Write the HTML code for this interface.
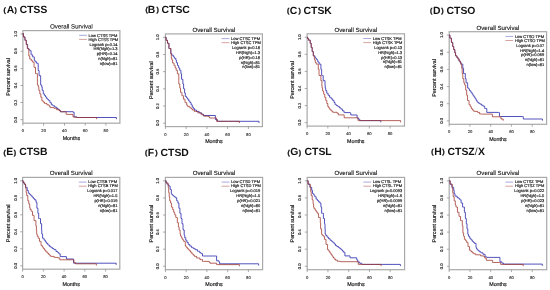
<!DOCTYPE html><html><head><meta charset="utf-8"><title>Overall Survival</title><style>html,body{margin:0;padding:0;background:#fff;width:550px;height:290px;overflow:hidden}#w{position:absolute;left:0;top:0;width:1100px;height:580px;transform:scale(0.5);transform-origin:0 0;will-change:transform}svg{display:block;}text{font-family:"Liberation Sans",sans-serif;font-kerning:none;text-rendering:geometricPrecision}</style></head><body><div id="w">
<svg width="1100" height="580" viewBox="0 0 550 290">
<defs><filter id="lb" filterUnits="userSpaceOnUse" x="0" y="0" width="550" height="290"><feGaussianBlur stdDeviation="0.4"/></filter></defs>
<rect width="550" height="290" fill="#fff"/>
<g><text x="3.45" y="12.3" font-size="7" font-weight="bold" fill="#111" stroke="#111" stroke-width="0.3">(</text><text x="10.5" y="13.15" font-size="10.4" font-weight="bold" text-anchor="middle" fill="#111">A</text><text x="15.7" y="12.3" font-size="7" font-weight="bold" text-anchor="middle" fill="#111" stroke="#111" stroke-width="0.3">)</text><text x="19.57" y="13.15" font-size="10.4" font-weight="bold" fill="#111">CTSS</text><text x="71.4" y="28.5" font-size="6.1" text-anchor="middle" fill="#111" stroke="#111" stroke-width="0.12">Overall Survival</text><rect x="22.9" y="30.6" width="97" height="92.6" fill="none" stroke="#a9a9a9" stroke-width="1.2"/><path d="M20.5 119.77H22.9M20.5 102.62H22.9M20.5 85.47H22.9M20.5 68.33H22.9M20.5 51.18H22.9M20.5 34.03H22.9M22.9 123.2V125.6M43.65 123.2V125.6M64.4 123.2V125.6M85.15 123.2V125.6M105.9 123.2V125.6" stroke="#8a8a8a" stroke-width="0.7" fill="none"/><text transform="translate(16.8 119.77) rotate(-90)" font-size="4.15" text-anchor="middle" fill="#333" stroke="#333" stroke-width="0.14">0.0</text><text transform="translate(16.8 102.62) rotate(-90)" font-size="4.15" text-anchor="middle" fill="#333" stroke="#333" stroke-width="0.14">0.2</text><text transform="translate(16.8 85.47) rotate(-90)" font-size="4.15" text-anchor="middle" fill="#333" stroke="#333" stroke-width="0.14">0.4</text><text transform="translate(16.8 68.33) rotate(-90)" font-size="4.15" text-anchor="middle" fill="#333" stroke="#333" stroke-width="0.14">0.6</text><text transform="translate(16.8 51.18) rotate(-90)" font-size="4.15" text-anchor="middle" fill="#333" stroke="#333" stroke-width="0.14">0.8</text><text transform="translate(16.8 34.03) rotate(-90)" font-size="4.15" text-anchor="middle" fill="#333" stroke="#333" stroke-width="0.14">1.0</text><text x="22.9" y="132.1" font-size="4.15" text-anchor="middle" fill="#333" stroke="#333" stroke-width="0.14">0</text><text x="43.65" y="132.1" font-size="4.15" text-anchor="middle" fill="#333" stroke="#333" stroke-width="0.14">20</text><text x="64.4" y="132.1" font-size="4.15" text-anchor="middle" fill="#333" stroke="#333" stroke-width="0.14">40</text><text x="85.15" y="132.1" font-size="4.15" text-anchor="middle" fill="#333" stroke="#333" stroke-width="0.14">60</text><text x="105.9" y="132.1" font-size="4.15" text-anchor="middle" fill="#333" stroke="#333" stroke-width="0.14">80</text><text transform="translate(10 76.9) rotate(-90)" font-size="5.3" text-anchor="middle" fill="#111" stroke="#111" stroke-width="0.16">Percent survival</text><text x="71.4" y="139.6" font-size="5.3" text-anchor="middle" fill="#111" stroke="#111" stroke-width="0.16">Months</text><path d="M79.1 35.3H86.9" stroke="#3e3eb6" stroke-width="0.9" opacity="0.5"/><path d="M79.1 39.4H86.9" stroke="#a0342a" stroke-width="0.9" opacity="0.5"/><text x="88.6" y="36.5" font-size="4" fill="#111" stroke="#222" stroke-width="0.16">Low CTSS TPM</text><text x="88.6" y="40.5" font-size="4" fill="#111" stroke="#222" stroke-width="0.16">High CTSS TPM</text><text x="117.5" y="45.55" font-size="4" text-anchor="end" fill="#111" stroke="#222" stroke-width="0.16">Logrank p=0.14</text><text x="117.5" y="50.45" font-size="4" text-anchor="end" fill="#111" stroke="#222" stroke-width="0.16">HR(high)=1.3</text><text x="117.5" y="55.35" font-size="4" text-anchor="end" fill="#111" stroke="#222" stroke-width="0.16">p(HR)=0.14</text><text x="117.5" y="60.25" font-size="4" text-anchor="end" fill="#111" stroke="#222" stroke-width="0.16">n(high)=81</text><text x="117.5" y="65.15" font-size="4" text-anchor="end" fill="#111" stroke="#222" stroke-width="0.16">n(low)=81</text></g>
<g><text x="145.45" y="11.95" font-size="7" font-weight="bold" fill="#111" stroke="#111" stroke-width="0.3">(</text><text x="151.5" y="12.8" font-size="10.4" font-weight="bold" text-anchor="middle" fill="#111">B</text><text x="157.7" y="11.95" font-size="7" font-weight="bold" text-anchor="middle" fill="#111" stroke="#111" stroke-width="0.3">)</text><text x="161.57" y="12.8" font-size="10.4" font-weight="bold" fill="#111">CTSC</text><text x="213.9" y="31.8" font-size="6.1" text-anchor="middle" fill="#111" stroke="#111" stroke-width="0.12">Overall Survival</text><rect x="165.4" y="33.9" width="97" height="92.7" fill="none" stroke="#a9a9a9" stroke-width="1.2"/><path d="M163 123.17H165.4M163 106H165.4M163 88.83H165.4M163 71.67H165.4M163 54.5H165.4M163 37.33H165.4M165.4 126.6V129M186.15 126.6V129M206.9 126.6V129M227.65 126.6V129M248.4 126.6V129" stroke="#8a8a8a" stroke-width="0.7" fill="none"/><text transform="translate(159.3 123.17) rotate(-90)" font-size="4.15" text-anchor="middle" fill="#333" stroke="#333" stroke-width="0.14">0.0</text><text transform="translate(159.3 106) rotate(-90)" font-size="4.15" text-anchor="middle" fill="#333" stroke="#333" stroke-width="0.14">0.2</text><text transform="translate(159.3 88.83) rotate(-90)" font-size="4.15" text-anchor="middle" fill="#333" stroke="#333" stroke-width="0.14">0.4</text><text transform="translate(159.3 71.67) rotate(-90)" font-size="4.15" text-anchor="middle" fill="#333" stroke="#333" stroke-width="0.14">0.6</text><text transform="translate(159.3 54.5) rotate(-90)" font-size="4.15" text-anchor="middle" fill="#333" stroke="#333" stroke-width="0.14">0.8</text><text transform="translate(159.3 37.33) rotate(-90)" font-size="4.15" text-anchor="middle" fill="#333" stroke="#333" stroke-width="0.14">1.0</text><text x="165.4" y="135.5" font-size="4.15" text-anchor="middle" fill="#333" stroke="#333" stroke-width="0.14">0</text><text x="186.15" y="135.5" font-size="4.15" text-anchor="middle" fill="#333" stroke="#333" stroke-width="0.14">20</text><text x="206.9" y="135.5" font-size="4.15" text-anchor="middle" fill="#333" stroke="#333" stroke-width="0.14">40</text><text x="227.65" y="135.5" font-size="4.15" text-anchor="middle" fill="#333" stroke="#333" stroke-width="0.14">60</text><text x="248.4" y="135.5" font-size="4.15" text-anchor="middle" fill="#333" stroke="#333" stroke-width="0.14">80</text><text transform="translate(152.5 80.25) rotate(-90)" font-size="5.3" text-anchor="middle" fill="#111" stroke="#111" stroke-width="0.16">Percent survival</text><text x="213.9" y="143" font-size="5.3" text-anchor="middle" fill="#111" stroke="#111" stroke-width="0.16">Months</text><path d="M221.6 38.6H229.4" stroke="#3e3eb6" stroke-width="0.9" opacity="0.5"/><path d="M221.6 42.7H229.4" stroke="#a0342a" stroke-width="0.9" opacity="0.5"/><text x="231.1" y="39.8" font-size="4" fill="#111" stroke="#222" stroke-width="0.16">Low CTSC TPM</text><text x="231.1" y="43.8" font-size="4" fill="#111" stroke="#222" stroke-width="0.16">High CTSC TPM</text><text x="260" y="48.85" font-size="4" text-anchor="end" fill="#111" stroke="#222" stroke-width="0.16">Logrank p=0.18</text><text x="260" y="53.75" font-size="4" text-anchor="end" fill="#111" stroke="#222" stroke-width="0.16">HR(high)=1.3</text><text x="260" y="58.65" font-size="4" text-anchor="end" fill="#111" stroke="#222" stroke-width="0.16">p(HR)=0.18</text><text x="260" y="63.55" font-size="4" text-anchor="end" fill="#111" stroke="#222" stroke-width="0.16">n(high)=81</text><text x="260" y="68.45" font-size="4" text-anchor="end" fill="#111" stroke="#222" stroke-width="0.16">n(low)=81</text></g>
<g><text x="287.1" y="12.85" font-size="7" font-weight="bold" fill="#111" stroke="#111" stroke-width="0.3">(</text><text x="293.5" y="13.7" font-size="10.4" font-weight="bold" text-anchor="middle" fill="#111">C</text><text x="299.7" y="12.85" font-size="7" font-weight="bold" text-anchor="middle" fill="#111" stroke="#111" stroke-width="0.3">)</text><text x="303.57" y="13.7" font-size="10.4" font-weight="bold" fill="#111">CTSK</text><text x="355.8" y="31.7" font-size="6.1" text-anchor="middle" fill="#111" stroke="#111" stroke-width="0.12">Overall Survival</text><rect x="307.1" y="33.8" width="97.4" height="92.3" fill="none" stroke="#a9a9a9" stroke-width="1.2"/><path d="M304.7 122.67H307.1M304.7 105.58H307.1M304.7 88.49H307.1M304.7 71.41H307.1M304.7 54.32H307.1M304.7 37.23H307.1M307.1 126.1V128.5M327.85 126.1V128.5M348.6 126.1V128.5M369.35 126.1V128.5M390.1 126.1V128.5" stroke="#8a8a8a" stroke-width="0.7" fill="none"/><text transform="translate(301 122.67) rotate(-90)" font-size="4.15" text-anchor="middle" fill="#333" stroke="#333" stroke-width="0.14">0.0</text><text transform="translate(301 105.58) rotate(-90)" font-size="4.15" text-anchor="middle" fill="#333" stroke="#333" stroke-width="0.14">0.2</text><text transform="translate(301 88.49) rotate(-90)" font-size="4.15" text-anchor="middle" fill="#333" stroke="#333" stroke-width="0.14">0.4</text><text transform="translate(301 71.41) rotate(-90)" font-size="4.15" text-anchor="middle" fill="#333" stroke="#333" stroke-width="0.14">0.6</text><text transform="translate(301 54.32) rotate(-90)" font-size="4.15" text-anchor="middle" fill="#333" stroke="#333" stroke-width="0.14">0.8</text><text transform="translate(301 37.23) rotate(-90)" font-size="4.15" text-anchor="middle" fill="#333" stroke="#333" stroke-width="0.14">1.0</text><text x="307.1" y="135" font-size="4.15" text-anchor="middle" fill="#333" stroke="#333" stroke-width="0.14">0</text><text x="327.85" y="135" font-size="4.15" text-anchor="middle" fill="#333" stroke="#333" stroke-width="0.14">20</text><text x="348.6" y="135" font-size="4.15" text-anchor="middle" fill="#333" stroke="#333" stroke-width="0.14">40</text><text x="369.35" y="135" font-size="4.15" text-anchor="middle" fill="#333" stroke="#333" stroke-width="0.14">60</text><text x="390.1" y="135" font-size="4.15" text-anchor="middle" fill="#333" stroke="#333" stroke-width="0.14">80</text><text transform="translate(294.2 79.95) rotate(-90)" font-size="5.3" text-anchor="middle" fill="#111" stroke="#111" stroke-width="0.16">Percent survival</text><text x="355.8" y="142.5" font-size="5.3" text-anchor="middle" fill="#111" stroke="#111" stroke-width="0.16">Months</text><path d="M363.3 38.5H371.1" stroke="#3e3eb6" stroke-width="0.9" opacity="0.5"/><path d="M363.3 42.6H371.1" stroke="#a0342a" stroke-width="0.9" opacity="0.5"/><text x="372.8" y="39.7" font-size="4" fill="#111" stroke="#222" stroke-width="0.16">Low CTSK TPM</text><text x="372.8" y="43.7" font-size="4" fill="#111" stroke="#222" stroke-width="0.16">High CTSK TPM</text><text x="402.1" y="48.75" font-size="4" text-anchor="end" fill="#111" stroke="#222" stroke-width="0.16">Logrank p=0.13</text><text x="402.1" y="53.65" font-size="4" text-anchor="end" fill="#111" stroke="#222" stroke-width="0.16">HR(high)=1.3</text><text x="402.1" y="58.55" font-size="4" text-anchor="end" fill="#111" stroke="#222" stroke-width="0.16">p(HR)=0.13</text><text x="402.1" y="63.45" font-size="4" text-anchor="end" fill="#111" stroke="#222" stroke-width="0.16">n(high)=81</text><text x="402.1" y="68.35" font-size="4" text-anchor="end" fill="#111" stroke="#222" stroke-width="0.16">n(low)=81</text></g>
<g><text x="430.05" y="12.95" font-size="7" font-weight="bold" fill="#111" stroke="#111" stroke-width="0.3">(</text><text x="436.7" y="13.8" font-size="10.4" font-weight="bold" text-anchor="middle" fill="#111">D</text><text x="442.3" y="12.95" font-size="7" font-weight="bold" text-anchor="middle" fill="#111" stroke="#111" stroke-width="0.3">)</text><text x="446.57" y="13.8" font-size="10.4" font-weight="bold" fill="#111">CTSO</text><text x="497.9" y="29.6" font-size="6.1" text-anchor="middle" fill="#111" stroke="#111" stroke-width="0.12">Overall Survival</text><rect x="449.2" y="31.7" width="97.4" height="92.6" fill="none" stroke="#a9a9a9" stroke-width="1.2"/><path d="M446.8 120.87H449.2M446.8 103.72H449.2M446.8 86.57H449.2M446.8 69.43H449.2M446.8 52.28H449.2M446.8 35.13H449.2M449.2 124.3V126.7M469.95 124.3V126.7M490.7 124.3V126.7M511.45 124.3V126.7M532.2 124.3V126.7" stroke="#8a8a8a" stroke-width="0.7" fill="none"/><text transform="translate(443.1 120.87) rotate(-90)" font-size="4.15" text-anchor="middle" fill="#333" stroke="#333" stroke-width="0.14">0.0</text><text transform="translate(443.1 103.72) rotate(-90)" font-size="4.15" text-anchor="middle" fill="#333" stroke="#333" stroke-width="0.14">0.2</text><text transform="translate(443.1 86.57) rotate(-90)" font-size="4.15" text-anchor="middle" fill="#333" stroke="#333" stroke-width="0.14">0.4</text><text transform="translate(443.1 69.43) rotate(-90)" font-size="4.15" text-anchor="middle" fill="#333" stroke="#333" stroke-width="0.14">0.6</text><text transform="translate(443.1 52.28) rotate(-90)" font-size="4.15" text-anchor="middle" fill="#333" stroke="#333" stroke-width="0.14">0.8</text><text transform="translate(443.1 35.13) rotate(-90)" font-size="4.15" text-anchor="middle" fill="#333" stroke="#333" stroke-width="0.14">1.0</text><text x="449.2" y="133.2" font-size="4.15" text-anchor="middle" fill="#333" stroke="#333" stroke-width="0.14">0</text><text x="469.95" y="133.2" font-size="4.15" text-anchor="middle" fill="#333" stroke="#333" stroke-width="0.14">20</text><text x="490.7" y="133.2" font-size="4.15" text-anchor="middle" fill="#333" stroke="#333" stroke-width="0.14">40</text><text x="511.45" y="133.2" font-size="4.15" text-anchor="middle" fill="#333" stroke="#333" stroke-width="0.14">60</text><text x="532.2" y="133.2" font-size="4.15" text-anchor="middle" fill="#333" stroke="#333" stroke-width="0.14">80</text><text transform="translate(436.3 78) rotate(-90)" font-size="5.3" text-anchor="middle" fill="#111" stroke="#111" stroke-width="0.16">Percent survival</text><text x="497.9" y="140.7" font-size="5.3" text-anchor="middle" fill="#111" stroke="#111" stroke-width="0.16">Months</text><path d="M505.4 36.4H513.2" stroke="#3e3eb6" stroke-width="0.9" opacity="0.5"/><path d="M505.4 40.5H513.2" stroke="#a0342a" stroke-width="0.9" opacity="0.5"/><text x="514.9" y="37.6" font-size="4" fill="#111" stroke="#222" stroke-width="0.16">Low CTSO TPM</text><text x="514.9" y="41.6" font-size="4" fill="#111" stroke="#222" stroke-width="0.16">High CTSO TPM</text><text x="544.2" y="46.65" font-size="4" text-anchor="end" fill="#111" stroke="#222" stroke-width="0.16">Logrank p=0.07</text><text x="544.2" y="51.55" font-size="4" text-anchor="end" fill="#111" stroke="#222" stroke-width="0.16">HR(high)=1.4</text><text x="544.2" y="56.45" font-size="4" text-anchor="end" fill="#111" stroke="#222" stroke-width="0.16">p(HR)=0.069</text><text x="544.2" y="61.35" font-size="4" text-anchor="end" fill="#111" stroke="#222" stroke-width="0.16">n(high)=81</text><text x="544.2" y="66.25" font-size="4" text-anchor="end" fill="#111" stroke="#222" stroke-width="0.16">n(low)=81</text></g>
<g><text x="3.45" y="154.55" font-size="7" font-weight="bold" fill="#111" stroke="#111" stroke-width="0.3">(</text><text x="9.7" y="155.4" font-size="10.4" font-weight="bold" text-anchor="middle" fill="#111">E</text><text x="15" y="154.55" font-size="7" font-weight="bold" text-anchor="middle" fill="#111" stroke="#111" stroke-width="0.3">)</text><text x="19.27" y="155.4" font-size="10.4" font-weight="bold" fill="#111">CTSB</text><text x="71.2" y="175.3" font-size="6.1" text-anchor="middle" fill="#111" stroke="#111" stroke-width="0.12">Overall Survival</text><rect x="22.6" y="177.4" width="97.2" height="91.8" fill="none" stroke="#a9a9a9" stroke-width="1.2"/><path d="M20.2 265.77H22.6M20.2 248.78H22.6M20.2 231.79H22.6M20.2 214.81H22.6M20.2 197.82H22.6M20.2 180.83H22.6M22.6 269.2V271.6M43.35 269.2V271.6M64.1 269.2V271.6M84.85 269.2V271.6M105.6 269.2V271.6" stroke="#8a8a8a" stroke-width="0.7" fill="none"/><text transform="translate(16.5 265.77) rotate(-90)" font-size="4.15" text-anchor="middle" fill="#333" stroke="#333" stroke-width="0.14">0.0</text><text transform="translate(16.5 248.78) rotate(-90)" font-size="4.15" text-anchor="middle" fill="#333" stroke="#333" stroke-width="0.14">0.2</text><text transform="translate(16.5 231.79) rotate(-90)" font-size="4.15" text-anchor="middle" fill="#333" stroke="#333" stroke-width="0.14">0.4</text><text transform="translate(16.5 214.81) rotate(-90)" font-size="4.15" text-anchor="middle" fill="#333" stroke="#333" stroke-width="0.14">0.6</text><text transform="translate(16.5 197.82) rotate(-90)" font-size="4.15" text-anchor="middle" fill="#333" stroke="#333" stroke-width="0.14">0.8</text><text transform="translate(16.5 180.83) rotate(-90)" font-size="4.15" text-anchor="middle" fill="#333" stroke="#333" stroke-width="0.14">1.0</text><text x="22.6" y="278.1" font-size="4.15" text-anchor="middle" fill="#333" stroke="#333" stroke-width="0.14">0</text><text x="43.35" y="278.1" font-size="4.15" text-anchor="middle" fill="#333" stroke="#333" stroke-width="0.14">20</text><text x="64.1" y="278.1" font-size="4.15" text-anchor="middle" fill="#333" stroke="#333" stroke-width="0.14">40</text><text x="84.85" y="278.1" font-size="4.15" text-anchor="middle" fill="#333" stroke="#333" stroke-width="0.14">60</text><text x="105.6" y="278.1" font-size="4.15" text-anchor="middle" fill="#333" stroke="#333" stroke-width="0.14">80</text><text transform="translate(9.7 223.3) rotate(-90)" font-size="5.3" text-anchor="middle" fill="#111" stroke="#111" stroke-width="0.16">Percent survival</text><text x="71.2" y="285.6" font-size="5.3" text-anchor="middle" fill="#111" stroke="#111" stroke-width="0.16">Months</text><path d="M78.8 182.1H86.6" stroke="#3e3eb6" stroke-width="0.9" opacity="0.5"/><path d="M78.8 186.2H86.6" stroke="#a0342a" stroke-width="0.9" opacity="0.5"/><text x="88.3" y="183.3" font-size="4" fill="#111" stroke="#222" stroke-width="0.16">Low CTSB TPM</text><text x="88.3" y="187.3" font-size="4" fill="#111" stroke="#222" stroke-width="0.16">High CTSB TPM</text><text x="117.4" y="192.35" font-size="4" text-anchor="end" fill="#111" stroke="#222" stroke-width="0.16">Logrank p=0.017</text><text x="117.4" y="197.25" font-size="4" text-anchor="end" fill="#111" stroke="#222" stroke-width="0.16">HR(high)=1.5</text><text x="117.4" y="202.15" font-size="4" text-anchor="end" fill="#111" stroke="#222" stroke-width="0.16">p(HR)=0.019</text><text x="117.4" y="207.05" font-size="4" text-anchor="end" fill="#111" stroke="#222" stroke-width="0.16">n(high)=81</text><text x="117.4" y="211.95" font-size="4" text-anchor="end" fill="#111" stroke="#222" stroke-width="0.16">n(low)=81</text></g>
<g><text x="145.05" y="154.95" font-size="7" font-weight="bold" fill="#111" stroke="#111" stroke-width="0.3">(</text><text x="151" y="155.8" font-size="10.4" font-weight="bold" text-anchor="middle" fill="#111">F</text><text x="156.3" y="154.95" font-size="7" font-weight="bold" text-anchor="middle" fill="#111" stroke="#111" stroke-width="0.3">)</text><text x="160.57" y="155.8" font-size="10.4" font-weight="bold" fill="#111">CTSD</text><text x="214" y="175.3" font-size="6.1" text-anchor="middle" fill="#111" stroke="#111" stroke-width="0.12">Overall Survival</text><rect x="165.4" y="177.4" width="97.2" height="92.3" fill="none" stroke="#a9a9a9" stroke-width="1.2"/><path d="M163 266.27H165.4M163 249.18H165.4M163 232.09H165.4M163 215.01H165.4M163 197.92H165.4M163 180.83H165.4M165.4 269.7V272.1M186.15 269.7V272.1M206.9 269.7V272.1M227.65 269.7V272.1M248.4 269.7V272.1" stroke="#8a8a8a" stroke-width="0.7" fill="none"/><text transform="translate(159.3 266.27) rotate(-90)" font-size="4.15" text-anchor="middle" fill="#333" stroke="#333" stroke-width="0.14">0.0</text><text transform="translate(159.3 249.18) rotate(-90)" font-size="4.15" text-anchor="middle" fill="#333" stroke="#333" stroke-width="0.14">0.2</text><text transform="translate(159.3 232.09) rotate(-90)" font-size="4.15" text-anchor="middle" fill="#333" stroke="#333" stroke-width="0.14">0.4</text><text transform="translate(159.3 215.01) rotate(-90)" font-size="4.15" text-anchor="middle" fill="#333" stroke="#333" stroke-width="0.14">0.6</text><text transform="translate(159.3 197.92) rotate(-90)" font-size="4.15" text-anchor="middle" fill="#333" stroke="#333" stroke-width="0.14">0.8</text><text transform="translate(159.3 180.83) rotate(-90)" font-size="4.15" text-anchor="middle" fill="#333" stroke="#333" stroke-width="0.14">1.0</text><text x="165.4" y="278.6" font-size="4.15" text-anchor="middle" fill="#333" stroke="#333" stroke-width="0.14">0</text><text x="186.15" y="278.6" font-size="4.15" text-anchor="middle" fill="#333" stroke="#333" stroke-width="0.14">20</text><text x="206.9" y="278.6" font-size="4.15" text-anchor="middle" fill="#333" stroke="#333" stroke-width="0.14">40</text><text x="227.65" y="278.6" font-size="4.15" text-anchor="middle" fill="#333" stroke="#333" stroke-width="0.14">60</text><text x="248.4" y="278.6" font-size="4.15" text-anchor="middle" fill="#333" stroke="#333" stroke-width="0.14">80</text><text transform="translate(152.5 223.55) rotate(-90)" font-size="5.3" text-anchor="middle" fill="#111" stroke="#111" stroke-width="0.16">Percent survival</text><text x="214" y="286.1" font-size="5.3" text-anchor="middle" fill="#111" stroke="#111" stroke-width="0.16">Months</text><path d="M221.6 182.1H229.4" stroke="#3e3eb6" stroke-width="0.9" opacity="0.5"/><path d="M221.6 186.2H229.4" stroke="#a0342a" stroke-width="0.9" opacity="0.5"/><text x="231.1" y="183.3" font-size="4" fill="#111" stroke="#222" stroke-width="0.16">Low CTSD TPM</text><text x="231.1" y="187.3" font-size="4" fill="#111" stroke="#222" stroke-width="0.16">High CTSD TPM</text><text x="260.2" y="192.35" font-size="4" text-anchor="end" fill="#111" stroke="#222" stroke-width="0.16">Logrank p=0.019</text><text x="260.2" y="197.25" font-size="4" text-anchor="end" fill="#111" stroke="#222" stroke-width="0.16">HR(high)=1.5</text><text x="260.2" y="202.15" font-size="4" text-anchor="end" fill="#111" stroke="#222" stroke-width="0.16">p(HR)=0.021</text><text x="260.2" y="207.05" font-size="4" text-anchor="end" fill="#111" stroke="#222" stroke-width="0.16">n(high)=80</text><text x="260.2" y="211.95" font-size="4" text-anchor="end" fill="#111" stroke="#222" stroke-width="0.16">n(low)=81</text></g>
<g><text x="287.45" y="154.5" font-size="7" font-weight="bold" fill="#111" stroke="#111" stroke-width="0.3">(</text><text x="294.2" y="155.35" font-size="10.4" font-weight="bold" text-anchor="middle" fill="#111">G</text><text x="299.9" y="154.5" font-size="7" font-weight="bold" text-anchor="middle" fill="#111" stroke="#111" stroke-width="0.3">)</text><text x="304.57" y="155.35" font-size="10.4" font-weight="bold" fill="#111">CTSL</text><text x="355.9" y="175.3" font-size="6.1" text-anchor="middle" fill="#111" stroke="#111" stroke-width="0.12">Overall Survival</text><rect x="307.2" y="177.4" width="97.4" height="92.3" fill="none" stroke="#a9a9a9" stroke-width="1.2"/><path d="M304.8 266.27H307.2M304.8 249.18H307.2M304.8 232.09H307.2M304.8 215.01H307.2M304.8 197.92H307.2M304.8 180.83H307.2M307.2 269.7V272.1M327.95 269.7V272.1M348.7 269.7V272.1M369.45 269.7V272.1M390.2 269.7V272.1" stroke="#8a8a8a" stroke-width="0.7" fill="none"/><text transform="translate(301.1 266.27) rotate(-90)" font-size="4.15" text-anchor="middle" fill="#333" stroke="#333" stroke-width="0.14">0.0</text><text transform="translate(301.1 249.18) rotate(-90)" font-size="4.15" text-anchor="middle" fill="#333" stroke="#333" stroke-width="0.14">0.2</text><text transform="translate(301.1 232.09) rotate(-90)" font-size="4.15" text-anchor="middle" fill="#333" stroke="#333" stroke-width="0.14">0.4</text><text transform="translate(301.1 215.01) rotate(-90)" font-size="4.15" text-anchor="middle" fill="#333" stroke="#333" stroke-width="0.14">0.6</text><text transform="translate(301.1 197.92) rotate(-90)" font-size="4.15" text-anchor="middle" fill="#333" stroke="#333" stroke-width="0.14">0.8</text><text transform="translate(301.1 180.83) rotate(-90)" font-size="4.15" text-anchor="middle" fill="#333" stroke="#333" stroke-width="0.14">1.0</text><text x="307.2" y="278.6" font-size="4.15" text-anchor="middle" fill="#333" stroke="#333" stroke-width="0.14">0</text><text x="327.95" y="278.6" font-size="4.15" text-anchor="middle" fill="#333" stroke="#333" stroke-width="0.14">20</text><text x="348.7" y="278.6" font-size="4.15" text-anchor="middle" fill="#333" stroke="#333" stroke-width="0.14">40</text><text x="369.45" y="278.6" font-size="4.15" text-anchor="middle" fill="#333" stroke="#333" stroke-width="0.14">60</text><text x="390.2" y="278.6" font-size="4.15" text-anchor="middle" fill="#333" stroke="#333" stroke-width="0.14">80</text><text transform="translate(294.3 223.55) rotate(-90)" font-size="5.3" text-anchor="middle" fill="#111" stroke="#111" stroke-width="0.16">Percent survival</text><text x="355.9" y="286.1" font-size="5.3" text-anchor="middle" fill="#111" stroke="#111" stroke-width="0.16">Months</text><path d="M363.4 182.1H371.2" stroke="#3e3eb6" stroke-width="0.9" opacity="0.5"/><path d="M363.4 186.2H371.2" stroke="#a0342a" stroke-width="0.9" opacity="0.5"/><text x="372.9" y="183.3" font-size="4" fill="#111" stroke="#222" stroke-width="0.16">Low CTSL TPM</text><text x="372.9" y="187.3" font-size="4" fill="#111" stroke="#222" stroke-width="0.16">High CTSL TPM</text><text x="402.2" y="192.35" font-size="4" text-anchor="end" fill="#111" stroke="#222" stroke-width="0.16">Logrank p=0.0093</text><text x="402.2" y="197.25" font-size="4" text-anchor="end" fill="#111" stroke="#222" stroke-width="0.16">HR(high)=1.6</text><text x="402.2" y="202.15" font-size="4" text-anchor="end" fill="#111" stroke="#222" stroke-width="0.16">p(HR)=0.0099</text><text x="402.2" y="207.05" font-size="4" text-anchor="end" fill="#111" stroke="#222" stroke-width="0.16">n(high)=81</text><text x="402.2" y="211.95" font-size="4" text-anchor="end" fill="#111" stroke="#222" stroke-width="0.16">n(low)=81</text></g>
<g><text x="431.15" y="153.95" font-size="7" font-weight="bold" fill="#111" stroke="#111" stroke-width="0.3">(</text><text x="438" y="154.8" font-size="10.4" font-weight="bold" text-anchor="middle" fill="#111">H</text><text x="443.5" y="153.95" font-size="7" font-weight="bold" text-anchor="middle" fill="#111" stroke="#111" stroke-width="0.3">)</text><text x="447.57" y="154.8" font-size="10.4" font-weight="bold" fill="#111">CTSZ</text><text x="474.73" y="154.8" font-size="10.4" fill="#333">/</text><text x="477.92" y="154.8" font-size="10.4" font-weight="bold" fill="#111">X</text><text x="497.95" y="175.3" font-size="6.1" text-anchor="middle" fill="#111" stroke="#111" stroke-width="0.12">Overall Survival</text><rect x="449.2" y="177.4" width="97.5" height="92.3" fill="none" stroke="#a9a9a9" stroke-width="1.2"/><path d="M446.8 266.27H449.2M446.8 249.18H449.2M446.8 232.09H449.2M446.8 215.01H449.2M446.8 197.92H449.2M446.8 180.83H449.2M449.2 269.7V272.1M469.95 269.7V272.1M490.7 269.7V272.1M511.45 269.7V272.1M532.2 269.7V272.1" stroke="#8a8a8a" stroke-width="0.7" fill="none"/><text transform="translate(443.1 266.27) rotate(-90)" font-size="4.15" text-anchor="middle" fill="#333" stroke="#333" stroke-width="0.14">0.0</text><text transform="translate(443.1 249.18) rotate(-90)" font-size="4.15" text-anchor="middle" fill="#333" stroke="#333" stroke-width="0.14">0.2</text><text transform="translate(443.1 232.09) rotate(-90)" font-size="4.15" text-anchor="middle" fill="#333" stroke="#333" stroke-width="0.14">0.4</text><text transform="translate(443.1 215.01) rotate(-90)" font-size="4.15" text-anchor="middle" fill="#333" stroke="#333" stroke-width="0.14">0.6</text><text transform="translate(443.1 197.92) rotate(-90)" font-size="4.15" text-anchor="middle" fill="#333" stroke="#333" stroke-width="0.14">0.8</text><text transform="translate(443.1 180.83) rotate(-90)" font-size="4.15" text-anchor="middle" fill="#333" stroke="#333" stroke-width="0.14">1.0</text><text x="449.2" y="278.6" font-size="4.15" text-anchor="middle" fill="#333" stroke="#333" stroke-width="0.14">0</text><text x="469.95" y="278.6" font-size="4.15" text-anchor="middle" fill="#333" stroke="#333" stroke-width="0.14">20</text><text x="490.7" y="278.6" font-size="4.15" text-anchor="middle" fill="#333" stroke="#333" stroke-width="0.14">40</text><text x="511.45" y="278.6" font-size="4.15" text-anchor="middle" fill="#333" stroke="#333" stroke-width="0.14">60</text><text x="532.2" y="278.6" font-size="4.15" text-anchor="middle" fill="#333" stroke="#333" stroke-width="0.14">80</text><text transform="translate(436.3 223.55) rotate(-90)" font-size="5.3" text-anchor="middle" fill="#111" stroke="#111" stroke-width="0.16">Percent survival</text><text x="497.95" y="286.1" font-size="5.3" text-anchor="middle" fill="#111" stroke="#111" stroke-width="0.16">Months</text><path d="M505.4 182.1H513.2" stroke="#3e3eb6" stroke-width="0.9" opacity="0.5"/><path d="M505.4 186.2H513.2" stroke="#a0342a" stroke-width="0.9" opacity="0.5"/><text x="514.9" y="183.3" font-size="4" fill="#111" stroke="#222" stroke-width="0.16">Low CTSZ TPM</text><text x="514.9" y="187.3" font-size="4" fill="#111" stroke="#222" stroke-width="0.16">High CTSZ TPM</text><text x="544.3" y="192.35" font-size="4" text-anchor="end" fill="#111" stroke="#222" stroke-width="0.16">Logrank p=0.022</text><text x="544.3" y="197.25" font-size="4" text-anchor="end" fill="#111" stroke="#222" stroke-width="0.16">HR(high)=1.5</text><text x="544.3" y="202.15" font-size="4" text-anchor="end" fill="#111" stroke="#222" stroke-width="0.16">p(HR)=0.023</text><text x="544.3" y="207.05" font-size="4" text-anchor="end" fill="#111" stroke="#222" stroke-width="0.16">n(high)=81</text><text x="544.3" y="211.95" font-size="4" text-anchor="end" fill="#111" stroke="#222" stroke-width="0.16">n(low)=81</text></g>
<g filter="url(#lb)"><path d="M22.7 33.6H23.45V36.95H24.95V40.3H25.7H26.35V44.45H27.65V48.6H28.3H28.8V49.65H29.8V50.7H30.3H31.1V54.8H31.9H32.65V56.9H33.4H34.3V60.2H35.07V61.75H36.62V63.3H37.4H38.2V70.5H39.1V75.7H40H40.65V85H41.3H41.7V86.9H42.23V90.35H43.27V93.8H43.8H44.37V95.4H45.5V97H46.63V98.6H47.2H47.73V99.65H48.77V100.7H49.3H50V102.75H51.4V104.8H52.1H52.95V105.85H54.65V106.9H55.5H56.2V107.95H57.6V109H58.3H58.97V110.35H60.33V111.7H61H73V112.2H74.1V116.9H76.9V117.5H116.4v1.7" stroke="#3e3eb6" stroke-width="0.9" fill="none"/><path d="M22.7 33.6H23.45V36.95H24.95V40.3H25.7H26.23V44.45H27.27V48.6H27.8H28.8V55.9H29.75V59.1H30.7H31.35V60.65H32.65V62.2H33.3H34.05V67.4H34.8H35.5V73.6H36.2H37.4V85H38.3V86.9H38.8V90.35H39.8V93.8H40.3H40.82V97.25H41.88V100.7H42.4H43.1V102.05H44.5V103.4H45.2H46.9V104.8H48.6H49.12V106.2H50.18V107.6H50.7H54.1V108.3H56.55V109.7H59H59.5V110.75H60.5V111.8H61H66.2V114.4H73V117H75.8V117.5H96.6v1.7" stroke="#a0342a" stroke-width="0.9" stroke-opacity="0.85" fill="none"/><path d="M165.4 37.3H166.1V40.3H167.5V43.3H168.2H168.95V48.5H169.7H170.8V53.7H171.8V55.2H172.8H173.33V56.75H174.38V58.3H174.9H175.8V60H176.38V62.75H177.53V65.5H178.1H178.62V67.9H179.67V70.3H180.2H180.9V73.8H181.55V79.3H182.2H182.9V84H183.6V88.8H184.6V93H185.3V96.4H186H186.53V97.8H187.57V99.2H188.1H188.7V100.9H189.9V102.6H190.5H191.1V104.9H192.3V107.2H192.9H193.43V108.6H194.47V110H195H196.4V111.4H197.8H199.15V112.8H200.5H201.55V114.1H202.6H203.3V115.5H204H215.4V119.6H217.5V121.3H259v1.7" stroke="#3e3eb6" stroke-width="0.9" fill="none"/><path d="M165.4 37.3H166.1V40.3H167.5V43.3H168.2H168.95V48.5H169.7H170.8V53.7H171.3V58.3H171.9V60H172.6V63H173.3H174V65.5H174.7H175.2V67.9H176.2V70.3H176.7H177.4V73.8H178.1H178.8V80.7V84H179.8V88.1H180.5V92.3H181.2H181.9V95.7H182.6H183.45V99.2H184.3H185V102.6H185.7H186.7V105.2H187.75V106.6H188.8H189.85V107.9H190.9H191.4V108.95H192.4V110H192.9H194.3V111.4H195.7H197.75V112.8H199.8H200.5V113.8H201.9V114.8H202.6H203.65V116.2H204.7H208.8V116.9H209.5V118H216.5V121.3H239.4v1.7" stroke="#a0342a" stroke-width="0.9" stroke-opacity="0.85" fill="none"/><path d="M307.1 37.2H307.6V38.7H308.6V40.2H309.1H310.2V43.3H311.2V47.5H312.2V51.6H313.3V55.8H314.8V56.8H315.32V58.1H316.38V59.4H316.9H317.2V60H317.85V62.05H319.15V64.1H319.8H320.9V69.3H321.65V75.5H322.4H323.2V80.7H324H325V84.8H325.2V88H325.73V90.6H326.77V93.2H327.3H328.07V95.25H329.62V97.3H330.4H331.17V98.85H332.73V100.4H333.5H334.02V102.5H335.08V104.6H335.6H336.38V105.6H337.93V106.6H338.7H339.48V107.9H341.02V109.2H341.8H342.55V110.9H344.05V112.6H344.8H350.2V113H350.8V115H356.2H357.1V118H358H358.6V119.3H359.8V120.6H360.4H380.8v1.7" stroke="#3e3eb6" stroke-width="0.9" fill="none"/><path d="M307.1 37.2H307.6V38.7H308.6V40.2H309.1H310.2V43.3H311.2V47.5H312.2V51.6H313.3V55.8H314.3V58.9H314.7V60H315.3V62.5H316.25V64.1H317.2H318.3V69.3H319.05V75.5H319.8H320.9V80.7H321.9V85.9H322.1V88H322.62V91.1H323.68V94.2H324.2H324.73V97.3H325.77V100.4H326.3H326.8V103.5H327.8V106.6H328.3H328.82V108.15H329.88V109.7H330.4H331.17V111H332.73V112.3H333.5H337.1V113.3H338.4V114.9H339.7H344.2V115.3V117.8H357.4H358V120.6H358.6H400.6v1.7" stroke="#a0342a" stroke-width="0.9" stroke-opacity="0.85" fill="none"/><path d="M449.2 35.1H449.9V38.2H450.6H451.4V42.4H452.2H452.7V46.5H453.7V49.6H454.8V52.7H455.55V55.8H456.3H456.82V57.35H457.88V58.9H458.4H459.05V61.1H459.7H460.2V62.65H461.2V64.2H461.7H462.8V68.3H463.55V73.5H464.3H465.3V78.7H466.1V82.8H466.9H467.65V88H468.4H468.8V89.1H469.45V90.65H470.75V92.2H471.4H471.9V93.75H472.9V95.3H473.4H473.92V96.85H474.98V98.4H475.5H476.02V100.25H477.08V102.1H477.6H478.38V103.1H479.93V104.1H480.7H481.48V105.15H483.02V106.2H483.8H484.7V108.5H485.6H486.8V112.4H498.5V112.6H499.45V116.5H500.4H522.6H523.25V119H523.9H542.4v1.7" stroke="#3e3eb6" stroke-width="0.9" fill="none"/><path d="M449.2 35.1H449.9V38.2H450.6H451.4V42.4H452.2H452.7V46.5H453.7V49.6H454.8V52.7H455.55V55.8H456.3H456.82V57.35H457.88V58.9H458.4H459.05V61.1H459.7H460.6V64.2H461.5H461.7V68.3H462.2V73.5H462.8V78.7H463.8V82.8H464.7V85H465.7V90.2H466.7V95.3H467.5V100.5H468.3H469.05V104.7H469.8H470.32V106.75H471.38V108.8H471.9H472.55V110.1H473.85V111.4H474.5H477.6V112.4H479.65V114H481.7H482.5V114.1H492.4V116.8H499.8H501V119H503.2v1.7" stroke="#a0342a" stroke-width="0.9" stroke-opacity="0.85" fill="none"/><path d="M22.6 180.7H23.12V182.45H24.18V184.2H24.7H25.45V187.3H26.2H27.2V190.4H28.3V192.5H28.8V193.55H29.8V194.6H30.3H30.95V195.9H32.25V197.2H32.9H33.42V198.5H34.48V199.8H35H36V202.3H36.9V208.2H37.9V213.3H38.7V218.5H39.5H40.5V223.7H41.6V229.9H41.8V234.1H42.6V238.3H43.4H44.05V240.1H45.35V241.9H46H46.65V243.45H47.95V245H48.6H49.38V246.3H50.93V247.6H51.7H52.48V248.65H54.02V249.7H54.8H56.05V251.5H57.3H57.82V252.65H58.88V253.8H59.4H60.2V256.6H61H66.4V259H73H73.6V263.2H74.2H116.2v1.7" stroke="#3e3eb6" stroke-width="0.9" fill="none"/><path d="M22.6 180.7H23.12V182.45H24.18V184.2H24.7H25.7V188.4H26.2V192.5H26.7V195.6H27.8V200.8H28.8V203.9H29.7V207.7H30.2V209.5H31.2V211.3H31.7H32.5V215.4H33.3H34.05V220.6H34.8H35.9V225.8H36.4V229.9H36.7V234.1H37.2V236.2H38.2V238.3H38.7H39.5V241.4H40.3H41.05V245.5H41.8H42.32V247.05H43.38V248.6H43.9H44.55V250.15H45.85V251.7H46.5H47.15V253H48.45V254.3H49.1H49.6V255.35H50.6V256.4H51.1H54.2V257.4H57.9V257.9H59.8V258.2V259.8H73H73.9V262.5H74.8H75.4V263.8H76H96.4v1.7" stroke="#a0342a" stroke-width="0.9" stroke-opacity="0.85" fill="none"/><path d="M165.4 180.8H165.97V182.5H167.12V184.2H167.7H168.2V185.25H169.2V186.3H169.7H170.2V189.4H171.3V193.6H171.8V194.6H172.8V195.6H173.3H173.95V196.65H175.25V197.7H175.9H176.7V200.8H177.5H177.9V203H178.9V208.2H179.9V213.3H181V218.5H182V223.7H183V228.9H183.2V230H184.2V235.2H184.72V237.75H185.78V240.3H186.3H186.95V242.4H188.25V244.5H188.9H189.8V246.05H191.6V247.6H192.5H193.4V248.65H195.2V249.7H196.1H197.4V251.2H198.7H199.42V252.4H200.88V253.6H201.6H202.5V256H203.4H215.4H216.6V260.8H219V262H219.6V263.8H258.6v1.7" stroke="#3e3eb6" stroke-width="0.9" fill="none"/><path d="M165.4 180.8H166.25V183.2H167.1H168.2V187.3H168.7V192.5H169.2V196.7H169.7V200.8H170.6V203H171.4V207.1H172.2H172.7V209.7H173.7V212.3H174.2H174.72V214.9H175.78V217.5H176.3H177.3V222.7H178.4V226.8H179.1V230H180.1V234.1H180.62V236.2H181.67V238.3H182.2H182.7V239.85H183.7V241.4H184.2H185.3V245.5H185.95V247.05H187.25V248.6H187.9H188.4V249.65H189.4V250.7H189.9H190.55V252.25H191.85V253.8H192.5H193.15V255.1H194.45V256.4H195.1H196.65V258H198.2H199.9V259.6H201.6H202.5V261.4H203.4H208.8V262H210V263.2H216.6V264.6H239.4v1.7" stroke="#a0342a" stroke-width="0.9" stroke-opacity="0.85" fill="none"/><path d="M307.2 180.8H308.15V184.2H309.1H309.9V187.3H310.7H311.7V190.4H312.5V193.6H313.3H313.8V195.15H314.8V196.7H315.3H316.1V199.2H316.9H317.42V200.5H318.48V201.8H319H319.8V203H320.9V207.1H321.65V213.3H322.4H323.4V218.5H324.5V223.7H325V228.9H325.2V234.1H325.85V235.65H327.15V237.2H327.8H328.57V238.75H330.12V240.3H330.9H331.55V241.35H332.85V242.4H333.5H334.15V243.95H335.45V245.5H336.1H336.88V246.55H338.43V247.6H339.2H339.85V248.65H341.15V249.7H341.8H342.32V250.95H343.38V252.2H343.9H344.9V255.9H350V256.2V257.8H356.2H356.73V259.9H357.77V262H358.3H359.7V263.3H361.1H361.8V264.4H400.4v1.7" stroke="#3e3eb6" stroke-width="0.9" fill="none"/><path d="M307.2 180.8H308.15V184.2H309.1H310.2V187.3H310.7V191.5H311.2V195.6H312.2V199.8H313.1V203.9H313.6V207.1H314.12V208.65H315.18V210.2H315.7H316.23V211.75H317.27V213.3H317.8H318.55V217.5H319.3H320.3V222.7H320.6V228.9H321.6V234.1H322.12V235.15H323.18V236.2H323.7H324.45V239.3H325.2H326V244.5H326.8H327.55V249.7H328.3H328.82V251.25H329.88V252.8H330.4H330.92V254.35H331.98V255.9H332.5H333.02V257.45H334.08V259H334.6H335.53V260.15H337.38V261.3H338.3H340.4V261.7H357.6H358.3V264.4H359H381.1v1.7" stroke="#a0342a" stroke-width="0.9" stroke-opacity="0.85" fill="none"/><path d="M449.2 180.8H450.15V184.2H451.1H451.9V187.3H452.7H453.7V190.4H454.2V193.6H455V196.1H455.8H457.1V197.7H458.4H458.9V198.75H459.9V199.8H460.4H461.1V203H461.8H462.6V207.1H463.4H464.4V212.3H465.4V218.5H466.3V223.7H467V228.9H467.8V234.1H468.43V236.2H469.68V238.3H470.3H470.95V239.85H472.25V241.4H472.9H473.42V242.4H474.48V243.4H475H476V247.6H476.65V249.15H477.95V250.7H478.6H479.38V251.75H480.93V252.8H481.7H483V254.3H484.3H485.1V256.9H485.9H486.9V257.4H499H499.95V261.8H500.9H501.85V263.1H502.8H503.5V264.1H542.3v1.7" stroke="#3e3eb6" stroke-width="0.9" fill="none"/><path d="M449.2 180.8H450.15V184.2H451.1H452.2V188.4H452.7V192.5H453.2V196.7H454.2V200.8H455.3V204.9H456V207.1H456.7H457.45V212.3H458.2H459V216.4H459.8H460.55V220.6H461.3H462.3V225.8H462.9V233H463.6V236.2H464.4V239.3H465.2H465.7V240.85H466.7V242.4H467.2H468V246.6H468.8H469.55V250.2H470.3H470.95V251.5H472.25V252.8H472.9H473.82V253.8H475.68V254.8H476.6H480.7V255.9H483.8V256.4H484.7V258H485.6H486.25V260.3H486.9H492H492.65V262.5H493.3H499.6H500.7V264.4H523.2v1.7" stroke="#a0342a" stroke-width="0.9" stroke-opacity="0.85" fill="none"/></g>
</svg></div></body></html>
